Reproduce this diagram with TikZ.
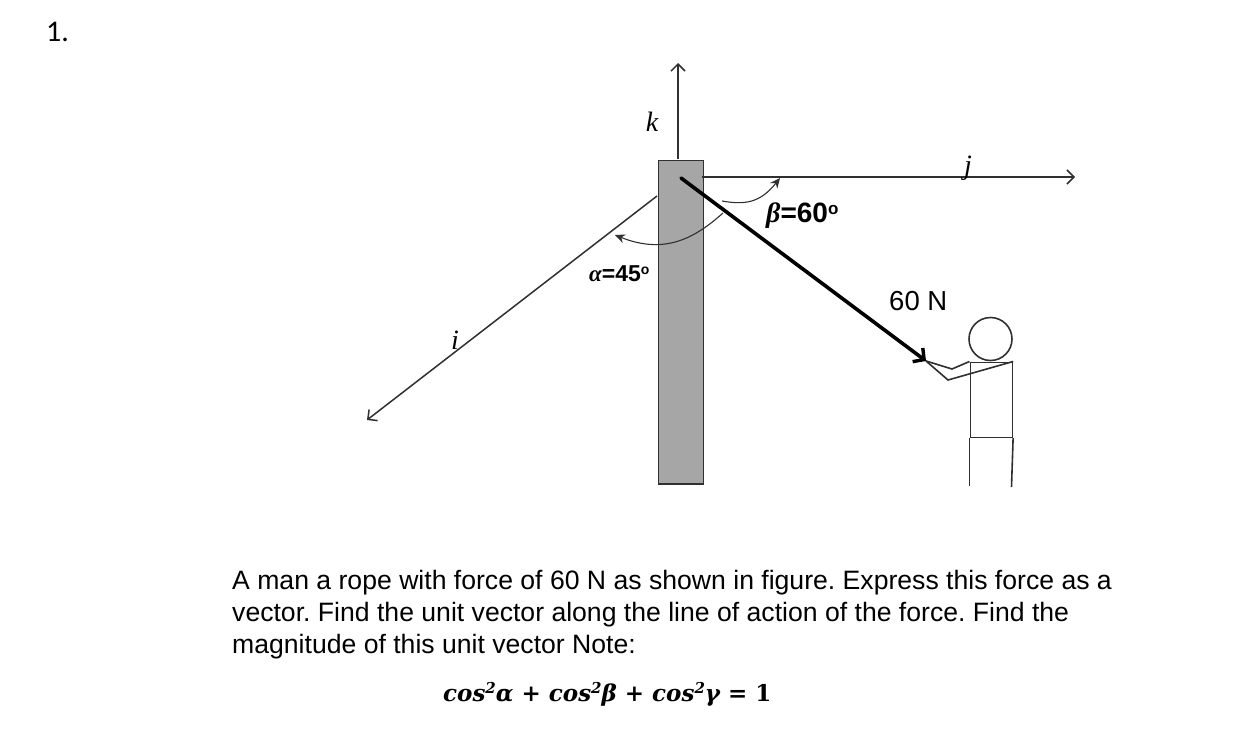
\documentclass[tikz,border=0pt]{standalone}
\usepackage{fontspec}
\setmainfont{Liberation Sans}
\newfontfamily\serifit{Liberation Serif}
\newfontfamily\formulafont{DejaVu Serif}
\newfontfamily\numfont{Carlito}
\usetikzlibrary{arrows.meta}
\definecolor{ink}{HTML}{303030}
\tikzset{
  axisline/.style={draw=ink,line width=1.5pt,-{Straight Barb[length=7pt,width=14pt,line width=1.5pt]}},
  bodyline/.style={draw=ink,line width=1.6pt},
  curvearrow/.style={draw=ink,line width=1.1pt,-{Stealth[length=10pt,width=9pt]}},
  rope/.style={draw=black,line width=3.6pt,line cap=round,-{Straight Barb[length=8pt,width=17pt,line width=3.4pt]}},
  sanslabel/.style={inner sep=0pt,font=\fontsize{27.5}{30}\selectfont},
  paraline/.style={inner sep=0pt,anchor=base west,font=\fontsize{26.6}{32}\selectfont},
  axislabel/.style={inner sep=0pt,font=\serifit\itshape\fontsize{28}{30}\selectfont}
}
\begin{document}
\frenchspacing
\begin{tikzpicture}[x=1pt,y=-1pt]
\useasboundingbox (0,0) rectangle (1250,744);
\node[inner sep=0pt,anchor=base west,font=\numfont\fontsize{30}{32}\selectfont] (num) at (46,41) {1.};
% pillar
\node[draw=ink,line width=1.6pt,fill=black!35,minimum width=45pt,minimum height=323.5pt,inner sep=0pt,anchor=north west] (pillar) at (657.5,159.5) {};
% axes
\coordinate (ktop) at (678,63);
\coordinate (kbot) at (678,159);
\coordinate (jstart) at (702,177);
\coordinate (jend) at (1075,177);
\coordinate (istart) at (657,196);
\coordinate (iend) at (367,420);
\draw[axisline] (kbot) -- (ktop);
\draw[axisline] (jstart) -- (jend);
\draw[axisline] (istart) -- (iend);
\node[axislabel,anchor=base] (klabel) at (652,131) {k};
\node[axislabel,anchor=base] (jlabel) at (968,174) {j};
\node[axislabel,anchor=base] (ilabel) at (455,349) {i};
% man
\coordinate (hand) at (926,361);
\coordinate (elbowa) at (948,380);
\coordinate (elbowb) at (952,369);
\node[draw=ink,line width=1.6pt,circle,minimum size=43pt,inner sep=0pt] (head) at (990.5,339) {};
\node[draw=ink,line width=1.6pt,minimum width=42pt,minimum height=75pt,inner sep=0pt,anchor=north west] (torso) at (969.5,361.5) {};
\coordinate (legl) at (969.5,486);
\coordinate (legr) at (1011.5,487);
\draw[bodyline] (torso.south west) -- (legl);
\draw[bodyline] (torso.south east) -- (legr);
\draw[bodyline] (torso.north east) -- (elbowa) -- (hand);
\draw[bodyline] (torso.north west) -- (elbowb) -- (hand);
% rope
\coordinate (ropestart) at (681,178);
\draw[rope] (ropestart) -- (hand);
% angle arcs
\coordinate (astart) at (723,213);
\coordinate (atip) at (615,235);
\coordinate (bstart) at (722,201);
\coordinate (btip) at (780,178);
\draw[curvearrow] (astart) .. controls (695,238) and (665,255) .. (atip);
\draw[curvearrow] (bstart) .. controls (745,205) and (760,203) .. (btip);
% labels
\node[anchor=base west,inner sep=0pt,font=\bfseries\fontsize{28}{30}\selectfont] (blabel) at (766,222) {{\serifit\itshape β}=60\raisebox{8pt}{\fontsize{17}{17}\selectfont o}};
\node[anchor=base west,inner sep=0pt,font=\bfseries\fontsize{23}{28}\selectfont] (alabel) at (589,281) {{\serifit\itshape α}=45\raisebox{7pt}{\fontsize{14}{14}\selectfont o}};
\node[anchor=base west,sanslabel] (force) at (889,310) {60 N};
\node[paraline] (para1) at (232,589.5) {A man a rope with force of 60 N as shown in figure. Express this force as a};
\node[paraline] (para2) at (232,621.5) {vector. Find the unit vector along the line of action of the force. Find the};
\node[paraline] (para3) at (232,653.5) {magnitude of this unit vector Note:};
\node[anchor=base west,inner sep=0pt,font=\formulafont\bfseries\itshape\fontsize{23}{30}\selectfont] (formula) at (443,701) {cos\raisebox{8pt}{\fontsize{15}{15}\selectfont 2}α + cos\raisebox{8pt}{\fontsize{15}{15}\selectfont 2}β + cos\raisebox{8pt}{\fontsize{15}{15}\selectfont 2}γ = {\upshape 1}};
\end{tikzpicture}
\end{document}
